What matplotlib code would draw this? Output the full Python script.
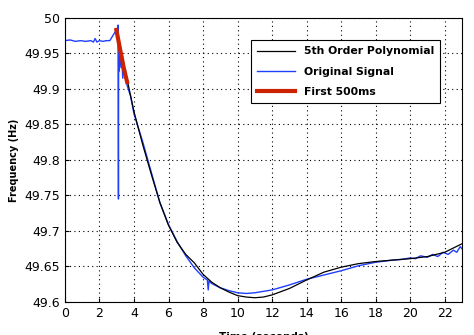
import matplotlib
matplotlib.use("Agg")
from matplotlib import pyplot as plt

# measured grid frequency after the event
sig_t = [0.0, 0.3, 0.6, 0.9, 1.2, 1.5, 1.65, 1.75, 1.85, 2.0, 2.2, 2.4, 2.6,
         2.75, 2.9, 3.0, 3.05, 3.08, 3.1, 3.11, 3.13, 3.18, 3.25, 3.3, 3.35,
         3.4, 3.45, 3.5, 3.6, 3.8, 4.0, 4.5, 5.0, 5.5, 6.0, 6.5, 7.0, 7.5,
         8.0, 8.25, 8.3, 8.35, 8.5, 9.0, 9.5, 10.0, 10.5, 11.0, 11.5, 12.0,
         13.0, 14.0, 15.0, 16.0, 17.0, 18.0, 19.0, 19.5, 20.0, 20.3, 20.6,
         21.0, 21.3, 21.6, 21.9, 22.2, 22.5, 22.7, 22.9, 23.0]
sig_f = [49.968, 49.969, 49.967, 49.968, 49.967, 49.968, 49.966, 49.971,
         49.966, 49.968, 49.967, 49.968, 49.968, 49.974, 49.980, 49.983,
         49.976, 49.990, 49.745, 49.960, 49.925, 49.945, 49.930, 49.940,
         49.915, 49.935, 49.925, 49.928, 49.905, 49.890, 49.865, 49.826,
         49.783, 49.740, 49.709, 49.685, 49.665, 49.648, 49.635, 49.631,
         49.617, 49.630, 49.626, 49.620, 49.616, 49.613, 49.612, 49.613,
         49.615, 49.617, 49.624, 49.632, 49.638, 49.644, 49.651, 49.656,
         49.659, 49.660, 49.662, 49.661, 49.665, 49.663, 49.667, 49.664,
         49.670, 49.667, 49.673, 49.670, 49.678, 49.675]

# 5th order polynomial fit
fit_t = [3.0, 3.5, 4.0, 4.5, 5.0, 5.5, 6.0, 6.5, 7.0, 7.5, 8.0, 8.5, 9.0,
         9.5, 10.0, 10.5, 11.0, 11.5, 12.0, 13.0, 14.0, 15.0, 16.0, 17.0,
         18.0, 19.0, 20.0, 21.0, 22.0, 23.0]
fit_f = [49.985, 49.925, 49.868, 49.822, 49.780, 49.740, 49.708, 49.684,
         49.667, 49.655, 49.639, 49.628, 49.620, 49.614, 49.609, 49.607,
         49.606, 49.607, 49.610, 49.619, 49.631, 49.642, 49.649, 49.654,
         49.657, 49.659, 49.661, 49.664, 49.670, 49.682]

# first 500 ms of the signal
first_t = [2.98, 3.1, 3.2, 3.3, 3.4, 3.5, 3.6]
first_f = [49.983, 49.968, 49.955, 49.943, 49.930, 49.920, 49.910]

fig = plt.figure(figsize=(4.74, 3.35), dpi=100)
ax = fig.add_axes([0.137, 0.0985, 0.8376, 0.848])

ax.plot(fit_t, fit_f, color="black", lw=0.9, label="5th Order Polynomial", zorder=3)
ax.plot(sig_t, sig_f, color="#1f3fff", lw=1.0, label="Original Signal", zorder=2)
ax.plot(first_t, first_f, color="#cc2200", lw=3.0, label="First 500ms", zorder=4)

ax.set_xlim(0, 23)
ax.set_ylim(49.6, 50.0)
ax.set_xticks(range(0, 23, 2))
ax.set_yticks([49.6, 49.65, 49.7, 49.75, 49.8, 49.85, 49.9, 49.95, 50.0])
ax.set_yticklabels(["49.6", "49.65", "49.7", "49.75", "49.8", "49.85", "49.9", "49.95", "50"])
ax.tick_params(labelsize=9, direction="in", length=3)
ax.grid(True, color="black", linestyle=(0, (1, 3)), linewidth=0.8)

ax.set_ylabel("Frequency (Hz)", fontsize=7, fontweight="bold")
ax.set_xlabel("Time (seconds)", fontsize=7.5, fontweight="bold", labelpad=9)

leg = ax.legend(loc="upper left", bbox_to_anchor=(0.456, 0.94), fancybox=False,
                edgecolor="black", framealpha=1, prop={"size": 7.8, "weight": "bold"},
                handlelength=3.5, borderpad=0.55, labelspacing=0.95)
leg.get_frame().set_linewidth(0.8)

fig.savefig("out.png", dpi=100)
